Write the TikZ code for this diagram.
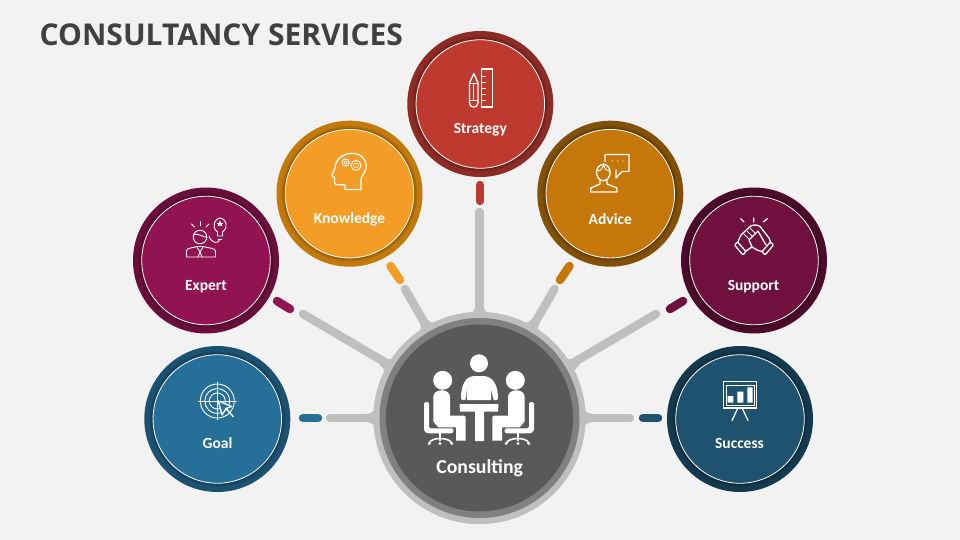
\documentclass[tikz,border=0pt]{standalone}
\usepackage{fontspec}
\setmainfont{Carlito}
\newfontfamily\headfont{Open Sans}
\usetikzlibrary{calc}

\definecolor{paper}{HTML}{F2F2F2}
\definecolor{headgrey}{HTML}{404040}
\definecolor{spokegrey}{HTML}{BFBFBF}
\definecolor{hubmid}{HTML}{808080}
\definecolor{hubdark}{HTML}{595959}
\definecolor{stratfill}{HTML}{BE3A2F}
\definecolor{stratring}{HTML}{8E2B25}
\definecolor{knowfill}{HTML}{F39C26}
\definecolor{knowring}{HTML}{C47A0A}
\definecolor{expfill}{HTML}{921351}
\definecolor{expring}{HTML}{6A0E3C}
\definecolor{advfill}{HTML}{C5770A}
\definecolor{advring}{HTML}{835007}
\definecolor{supfill}{HTML}{70103F}
\definecolor{supring}{HTML}{4D0B2B}
\definecolor{goalfill}{HTML}{256F99}
\definecolor{goalring}{HTML}{1B5272}
\definecolor{succfill}{HTML}{1E526F}
\definecolor{succring}{HTML}{143A50}

\tikzset{
  ringdisc/.style={circle, fill=#1, inner sep=0pt, minimum size=146pt},
  coredisc/.style={circle, fill=#1, draw=white, line width=0.8pt, inner sep=0pt, minimum size=128.5pt,
    preaction={draw=black, draw opacity=0.10, line width=7pt},
    preaction={draw=black, draw opacity=0.14, line width=3.5pt}},
  tag/.style={text=white, font=\bfseries\fontsize{15.5}{18}\selectfont, inner sep=0pt},
  spoke/.style={draw=spokegrey, line width=8.5pt, line cap=round},
  pill/.style={draw=#1, line width=8.5pt, line cap=round},
  icon/.style={draw=white, line width=1.3pt, line join=round, line cap=round},
  thinicon/.style={draw=white, line width=0.9pt, line join=round, line cap=round}
}

\begin{document}
\begin{tikzpicture}[x=1pt, y=-1pt]
  \fill[paper] (0,0) rectangle (960,540);
  \useasboundingbox (0,0) rectangle (960,540);

  \node[anchor=west, text=headgrey, inner sep=0pt, font=\headfont\bfseries\fontsize{30}{34}\selectfont] (title) at (39.5,34.5) {CONSULTANCY SERVICES};

  % hub
  \node[circle, fill=spokegrey, inner sep=0pt, minimum size=212pt] (hub) at (479.5,418) {};

  % spoke ends
  \coordinate (goalend) at (330,418);
  \coordinate (expend) at (303,314);
  \coordinate (knowend) at (405,289);
  \coordinate (stratend) at (479.5,212);
  \coordinate (advend) at (554.5,289);
  \coordinate (supend) at (656,314);
  \coordinate (succend) at (630,418);

  \draw[spoke] (hub) -- (goalend);
  \draw[spoke] (hub) -- (expend);
  \draw[spoke] (hub) -- (knowend);
  \draw[spoke] (hub) -- (stratend);
  \draw[spoke] (hub) -- (advend);
  \draw[spoke] (hub) -- (supend);
  \draw[spoke] (hub) -- (succend);

  \foreach \a in {0,30,...,180}{
    \fill[spokegrey] ($(hub)+(\a:103pt)+({\a+90}:11pt)$) .. controls ($(hub)+(\a:107pt)+({\a+90}:5pt)$) and ($(hub)+(\a:108pt)+({\a+90}:5pt)$) .. ($(hub)+(\a:113pt)+({\a+90}:4pt)$)
      -- ($(hub)+(\a:113pt)+({\a-90}:4pt)$) .. controls ($(hub)+(\a:108pt)+({\a-90}:5pt)$) and ($(hub)+(\a:107pt)+({\a-90}:5pt)$) .. ($(hub)+(\a:103pt)+({\a-90}:11pt)$) -- cycle;
  }

  \node[circle, fill=spokegrey, inner sep=0pt, minimum size=212pt] (hubouter) at (hub) {};
  \node[circle, fill=hubmid, inner sep=0pt, minimum size=200pt] (hubmidring) at (hub) {};
  \node[circle, fill=hubdark, inner sep=0pt, minimum size=187pt] (hubcore) at (hub) {};

  % pills
  \coordinate (goalpa) at (303,418);
  \coordinate (goalpb) at (318,418);
  \coordinate (exppa) at (277,301);
  \coordinate (exppb) at (290,309);
  \coordinate (knowpa) at (390.5,266);
  \coordinate (knowpb) at (400,280);
  \coordinate (stratpa) at (480,185);
  \coordinate (stratpb) at (480,201);
  \coordinate (advpa) at (569.5,266);
  \coordinate (advpb) at (560,280);
  \coordinate (suppa) at (683,301);
  \coordinate (suppb) at (670,309);
  \coordinate (succpa) at (658,418);
  \coordinate (succpb) at (643,418);

  \draw[pill=goalfill] (goalpa) -- (goalpb);
  \draw[pill=expfill] (exppa) -- (exppb);
  \draw[pill=knowfill] (knowpa) -- (knowpb);
  \draw[pill=stratfill] (stratpa) -- (stratpb);
  \draw[pill=advfill] (advpa) -- (advpb);
  \draw[pill=supfill] (suppa) -- (suppb);
  \draw[pill=succfill] (succpa) -- (succpb);

  % discs
  \node[ringdisc=goalring] (goalring) at (217.3,419) {};
  \node[coredisc=goalfill] (goal) at (217.3,419) {};
  \node[ringdisc=expring] (expertring) at (206,260.5) {};
  \node[coredisc=expfill] (expert) at (206,260.5) {};
  \node[ringdisc=knowring] (knowring) at (349.5,193.7) {};
  \node[coredisc=knowfill] (know) at (349.5,193.7) {};
  \node[ringdisc=stratring] (stratring) at (480.3,104) {};
  \node[coredisc=stratfill] (strat) at (480.3,104) {};
  \node[ringdisc=advring] (advring) at (610.3,193.7) {};
  \node[coredisc=advfill] (advice) at (610.3,193.7) {};
  \node[ringdisc=supring] (supring) at (754,260.5) {};
  \node[coredisc=supfill] (support) at (754,260.5) {};
  \node[ringdisc=succring] (succring) at (740,419) {};
  \node[coredisc=succfill] (success) at (740,419) {};

  % labels
  \node[tag] (goaltag) at (217.5,443) {Goal};
  \node[tag] (exptag) at (206,286.5) {Expert};
  \node[tag] (knowtag) at (349.5,219) {Knowledge};
  \node[tag] (strattag) at (480.3,129.5) {Strategy};
  \node[tag] (advtag) at (610.3,219) {Advice};
  \node[tag] (suptag) at (753.5,286.5) {Support};
  \node[tag] (succtag) at (739.5,443.5) {Success};
  \node[text=white, inner sep=0pt, font=\bfseries\fontsize{19.8}{22}\selectfont] (hubtag) at (479.7,468.5) {Consulting};

  % consulting icon
  \fill[white] (479,363.3) circle (9);
  \fill[white] (461,398) .. controls (461,384) and (466,376) .. (475,376) -- (483,376) .. controls (492,376) and (498,384) .. (498,398) .. controls (498,401) and (493,401) .. (493,398) -- (491,388) -- (491,400) -- (467,400) -- (467,388) -- (466,398) .. controls (466,401) and (461,401) .. (461,398) -- cycle;
  \fill[white] (459.5,404) -- (498.5,404) -- (498,411.5) -- (484,411.5) -- (484,441) -- (475,441) -- (475,411.5) -- (460,411.5) -- cycle;
  \foreach \side in {0,1}{
    \begin{scope}[shift={(\side*958pt,0pt)}, xscale={1-2*\side}]
      \fill[white] (442.7,380.3) circle (9.5);
      \fill[white] (433.3,421.5) -- (433.3,397) .. controls (433.3,388) and (450,388) .. (450,397) -- (450,415.5) -- (463,415.5) .. controls (465,415.5) and (465.7,416.5) .. (465.7,418) -- (465.7,440.7) -- (456,440.7) -- (456,427.3) -- (438.3,427.3) -- cycle;
      \fill[white, rounded corners=1.5pt] (424,402) -- (429,402) -- (429,428.3) -- (453.3,428.3) -- (453.3,433.3) -- (427,433.3) -- (424,431) -- cycle;
      \fill[white] (438.7,433) rectangle (441.3,441);
      \draw[white, line width=1.6pt] (429.3,443) .. controls (431,437) and (449,437) .. (451.7,443);
      \fill[white] (429.3,443.5) circle (1.6) (440,443.5) circle (1.6) (451.7,443.5) circle (1.6);
    \end{scope}
  }

  % strategy icon
  \draw[icon] (469.5,103) -- (469.5,83) -- (473.8,73.5) -- (478,83) -- (478,103) .. controls (478,108.5) and (469.5,108.5) .. (469.5,103);
  \draw[thinicon] (469.5,83) -- (478,83) (473.8,83) -- (473.8,100) (469.5,100) -- (478,100);
  \draw[icon] (481.7,69) rectangle (492.5,107);
  \foreach \y in {76,82,88,94,100}{
    \draw[thinicon] (481.7,\y) -- (485.5,\y);
  }

  % knowledge icon
  \draw[icon] (361,189.5) -- (345,189.5) -- (345,185) -- (336,184.5) .. controls (333.5,184) and (335,180) .. (334.5,177.5) -- (331.5,175.5) -- (335,168) .. controls (336,149) and (368,148) .. (366,168) .. controls (365.5,173) and (361,175) .. (361,180) -- cycle;
  \draw[thinicon, densely dotted, line width=1.1pt] (345.5,162.5) circle (3.6) (356,165.5) circle (5);
  \draw[thinicon, line width=0.5pt] (345.5,162.5) circle (1.8) (356,165.5) circle (2.4);

  % expert icon
  \draw[thinicon] (200,237) circle (6.8);
  \draw[thinicon] (193.5,235) .. controls (198,232) and (203,238) .. (207,237);
  \draw[thinicon] (186.5,257) -- (186.5,251) .. controls (186.5,248) and (192,248) .. (197,246.5) -- (203,246.5) .. controls (208,248) and (215.5,248) .. (215.5,251) -- (215.5,257) -- cycle;
  \draw[thinicon] (197,247) -- (200,252) -- (203,247) (198,257) -- (200,252) -- (202,257);
  \draw[thinicon] (200.5,221.5) -- (200.5,226) (191.5,224) -- (194.5,227) (209,224) -- (206,227);
  \draw[thinicon] (217.5,236) -- (217.5,232) .. controls (210,226) and (216,218) .. (220,218) .. controls (225,218) and (230,226) .. (222.5,232) -- (222.5,236) -- cycle;
  \draw[thinicon, line width=0.6pt] (220,221) -- (222,226) -- (217.5,223.5) -- (222.5,223.5) -- (218,226) -- cycle;
  \draw[thinicon] (218,239) -- (222,239);
  \draw[thinicon] (220,239) .. controls (219,245) and (211,243) .. (209,236);

  % advice icon
  \draw[icon] (603.3,172.5) ellipse (6.8 and 8.2);
  \draw[thinicon] (596.8,171) .. controls (601,171) and (603,168) .. (603.5,165) .. controls (604,168) and (606,171) .. (610,171);
  \draw[icon] (600,180.5) -- (600,184) -- (590.8,188) -- (590.8,192) -- (617,192) -- (617,188) -- (607,184) -- (607,180.5);
  \draw[icon] (605,161.5) -- (605,154.5) -- (629,154.5) -- (629,171.5) -- (622,171.5) -- (616,178) -- (616,170);
  \foreach \dx in {612,617.5,623}{
    \fill[white] (\dx,161) circle (0.6);
  }

  % support icon
  \draw[icon] (740.7,218.7) -- (744,222) (753.7,218) -- (753.7,222) (767.3,218.7) -- (763.3,222);
  \draw[icon, rounded corners=1pt] (734.5,245) -- (737.5,242) -- (746,251.5) -- (743,255) -- cycle;
  \draw[icon, rounded corners=1pt] (773.5,245) -- (770.5,242) -- (762,251.5) -- (765,255) -- cycle;
  \draw[icon] (738,241.5) -- (741,235) -- (750,226.5) .. controls (753,224.5) and (757,224.5) .. (760,226.5) -- (769,238) -- (770.5,242);
  \draw[icon] (746,251) -- (752,247) -- (757,250) -- (762,251.5);
  \draw[icon] (752,247) -- (749,240) -- (758,231) (758,231) -- (766,245);
  \draw[thinicon] (744,234) -- (749,239) (747,231) -- (752,236) (750,228) -- (755,233);

  % success icon
  \draw[icon] (723.5,381.5) rectangle (756.5,408);
  \draw[thinicon, line width=0.6pt] (726,385) rectangle (754,405);
  \fill[white] (727.7,396) rectangle (733.3,402.7) (737.3,391.7) rectangle (743.3,402.7) (747.3,387.3) rectangle (752.7,402.7);
  \draw[icon] (737.3,409.3) -- (732,420.5) (742.7,409.3) -- (748,420.5);

  % goal icon
  \draw[thinicon] (217.3,401) circle (17) (217.3,401) circle (12.5) (217.3,401) circle (8);
  \draw[thinicon] (198.5,401) -- (236.5,401) (217.5,382) -- (217.5,420);
  \draw[icon, fill=goalfill] (218.3,401) -- (231.7,406.5) -- (226,408.5) -- (222,415) -- cycle;
  \draw[icon] (226,408.5) -- (233.3,416.7);
\end{tikzpicture}
\end{document}
